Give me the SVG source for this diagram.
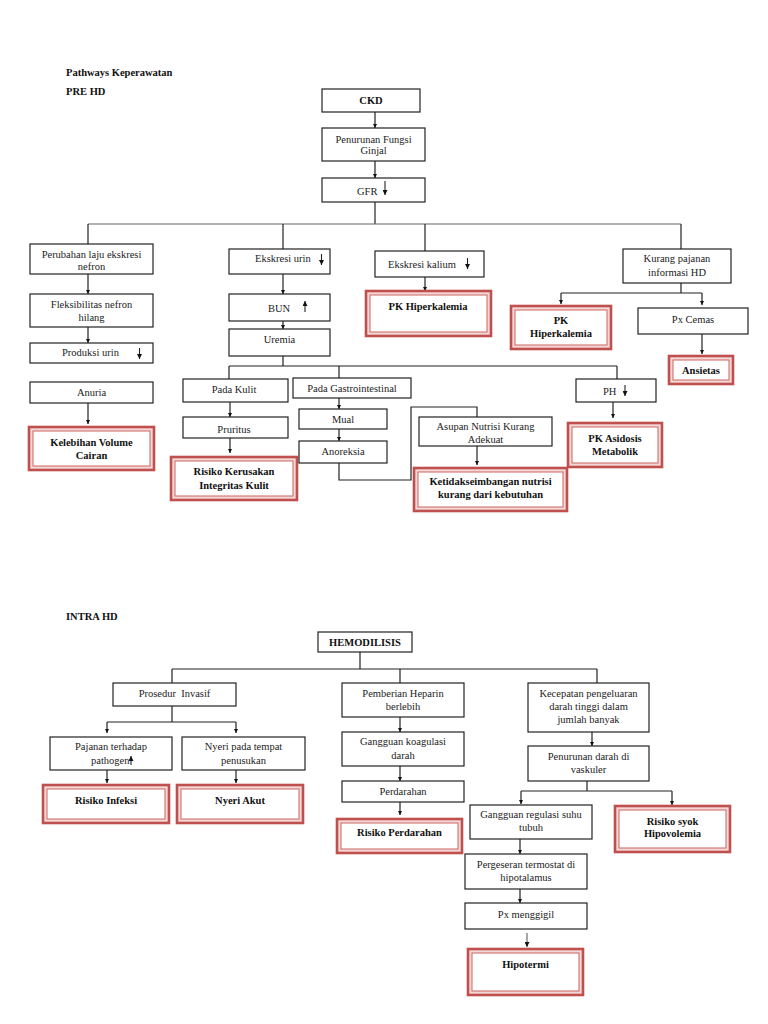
<svg xmlns="http://www.w3.org/2000/svg" width="768" height="1024" viewBox="0 0 768 1024">
<style>
.bg{fill:#ffffff}
.b{fill:#ffffff;stroke:#222;stroke-width:1.2}
.r{fill:#f3d8d7;stroke:#c0504d;stroke-width:2.6}
.ri{fill:#ffffff;stroke:#cd6461;stroke-width:1}
.t{font-family:"Liberation Serif","Times New Roman",serif;font-size:10.5px;fill:#222;text-anchor:middle}
.ts{font-family:"Liberation Serif","Times New Roman",serif;font-size:10.5px;fill:#222}
.tb{font-family:"Liberation Serif","Times New Roman",serif;font-size:10.5px;font-weight:bold;fill:#111;text-anchor:middle}
.h{font-family:"Liberation Serif","Times New Roman",serif;font-size:10.5px;font-weight:bold;fill:#111}
.c{fill:none;stroke:#222;stroke-width:1.2}
.a{fill:none;stroke:#222;stroke-width:1.2;marker-end:url(#ah)}
.s{fill:none;stroke:#222;stroke-width:1.1;marker-end:url(#sh)}
</style>
<defs>
<marker id="ah" viewBox="0 0 6 6" refX="6" refY="3" markerWidth="4.5" markerHeight="4.5" markerUnits="userSpaceOnUse" orient="auto"><path d="M0,0 L6,3 L0,6 z" fill="#111"/></marker>
<marker id="sh" viewBox="0 0 6 6" refX="6" refY="3" markerWidth="5" markerHeight="5" markerUnits="userSpaceOnUse" orient="auto"><path d="M0,0 L6,3 L0,6 z" fill="#111"/></marker>
</defs>
<rect class="bg" x="0" y="0" width="768" height="1024"/>

<g id="headings">
<text class="h" x="66" y="76">Pathways Keperawatan</text>
<text class="h" x="66" y="94.5">PRE HD</text>
<text class="h" x="66" y="619.5">INTRA HD</text>
</g>

<g id="connectors">
<path class="a" d="M375,112 V128"/>
<path class="a" d="M375,161 V178"/>
<path class="c" d="M375,202 V224"/>
<path class="c" d="M88,224 H681" style="stroke:#666"/>
<path class="c" d="M88,224 V244 M283,224 V249 M425,224 V251 M681,224 V249"/>
<path class="a" d="M88,274 V294"/>
<path class="a" d="M88,327 V343"/>
<path class="a" d="M88,403 V424"/>
<path class="a" d="M283,274 V294"/>
<path class="a" d="M283,321 V329"/>
<path class="c" d="M283,356 V366 M229,366 H617 M229,366 V379 M339,366 V378 M617,366 V379"/>
<path class="a" d="M230,402 V417"/>
<path class="a" d="M230,438 V453"/>
<path class="a" d="M339,398 V409"/>
<path class="a" d="M339,429 V441"/>
<path class="c" d="M339,463 V480 H411 V407 H477 V417"/>
<path class="a" d="M477,446 V465"/>
<path class="a" d="M425,277 V291"/>
<path class="c" d="M681,283 V293 M561,293 H702"/>
<path class="a" d="M561,293 V304"/>
<path class="a" d="M702,293 V305"/>
<path class="a" d="M702,334 V354"/>
<path class="a" d="M613,402 V418"/>

<path class="c" d="M360,652 V669 M172,669 H597 M172,669 V683 M400,669 V683 M597,669 V683"/>
<path class="c" d="M172,706 V722 M107,722 H236"/>
<path class="a" d="M107,722 V733"/>
<path class="a" d="M236,722 V733"/>
<path class="a" d="M107,770 V783"/>
<path class="a" d="M236,770 V783"/>
<path class="a" d="M400,717 V732"/>
<path class="a" d="M400,766 V781"/>
<path class="a" d="M400,802 V815"/>
<path class="a" d="M592,732 V746"/>
<path class="c" d="M587,781 V791 M521,791 H672"/>
<path class="a" d="M521,791 V804"/>
<path class="a" d="M672,791 V805"/>
<path class="a" d="M520,839 V854"/>
<path class="a" d="M520,889 V903"/>
<path class="s" d="M527,933 V947" style="stroke-width:0.8"/>
</g>

<g id="ckd"><rect class="b" x="322" y="89" width="98" height="23"/><text class="tb" x="371" y="104">CKD</text></g>
<g id="penurunan-fungsi"><rect class="b" x="322" y="128" width="103" height="33"/><text class="t" x="373.5" y="142.5">Penurunan Fungsi</text><text class="t" x="373.5" y="153.5">Ginjal</text></g>
<g id="gfr"><rect class="b" x="322" y="178" width="103" height="24"/><text class="ts" x="357" y="195">GFR</text><path class="s" d="M385,181 V195"/></g>

<g id="perubahan"><rect class="b" x="30" y="244" width="123" height="30"/><text class="t" x="91.5" y="257.5">Perubahan laju ekskresi</text><text class="t" x="91.5" y="270">nefron</text></g>
<g id="fleksibilitas"><rect class="b" x="30" y="294" width="123" height="33"/><text class="t" x="91.5" y="307.5">Fleksibilitas nefron</text><text class="t" x="91.5" y="321">hilang</text></g>
<g id="produksi-urin"><rect class="b" x="30" y="343" width="123" height="20"/><text class="ts" x="62" y="356">Produksi urin</text><path class="s" d="M139.5,348 V359"/></g>
<g id="anuria"><rect class="b" x="30" y="382" width="123" height="21"/><text class="t" x="91.5" y="396">Anuria</text></g>
<g id="kelebihan"><rect class="r" x="29" y="427" width="125" height="43"/><rect class="ri" x="33" y="431" width="117" height="35"/><text class="tb" x="91.5" y="446">Kelebihan Volume</text><text class="tb" x="91.5" y="458.5">Cairan</text></g>

<g id="ekskresi-urin"><rect class="b" x="229" y="249" width="101" height="25"/><text class="ts" x="255" y="262">Ekskresi urin</text><path class="s" d="M321.5,254 V265"/></g>
<g id="bun"><rect class="b" x="229" y="294" width="101" height="27"/><text class="ts" x="268" y="312">BUN</text><path class="s" d="M305,312 V301"/></g>
<g id="uremia"><rect class="b" x="229" y="329" width="101" height="27"/><text class="t" x="279.5" y="343">Uremia</text></g>
<g id="pada-kulit"><rect class="b" x="183" y="379" width="105" height="23"/><text class="t" x="234" y="393">Pada Kulit</text></g>
<g id="pruritus"><rect class="b" x="183" y="417" width="105" height="21"/><text class="t" x="234" y="432.5">Pruritus</text></g>
<g id="risiko-kerusakan"><rect class="r" x="171" y="457" width="126" height="43"/><rect class="ri" x="175" y="461" width="118" height="35"/><text class="tb" x="234" y="475">Risiko Kerusakan</text><text class="tb" x="234" y="488.5">Integritas Kulit</text></g>
<g id="pada-gastro"><rect class="b" x="293" y="378" width="118" height="20"/><text class="t" x="352" y="392">Pada Gastrointestinal</text></g>
<g id="mual"><rect class="b" x="299" y="409" width="88" height="20"/><text class="t" x="343" y="422.5">Mual</text></g>
<g id="anoreksia"><rect class="b" x="299" y="441" width="88" height="22"/><text class="t" x="343" y="455">Anoreksia</text></g>
<g id="asupan"><rect class="b" x="419" y="417" width="133" height="29"/><text class="t" x="485.5" y="430">Asupan Nutrisi Kurang</text><text class="t" x="485.5" y="442.5">Adekuat</text></g>
<g id="ketidakseimbangan"><rect class="r" x="414" y="468" width="153" height="43"/><rect class="ri" x="418" y="472" width="145" height="35"/><text class="tb" x="490.5" y="484.5">Ketidakseimbangan nutrisi</text><text class="tb" x="490.5" y="498">kurang dari kebutuhan</text></g>

<g id="ekskresi-kalium"><rect class="b" x="375" y="251" width="109" height="26"/><text class="ts" x="388" y="267.5">Ekskresi kalium</text><path class="s" d="M467.5,258 V269"/></g>
<g id="pk-hiperkalemia-1"><rect class="r" x="366" y="291" width="125" height="45"/><rect class="ri" x="370" y="295" width="117" height="37"/><text class="tb" x="428" y="309.5">PK Hiperkalemia</text></g>

<g id="kurang-pajanan"><rect class="b" x="623" y="249" width="108" height="34"/><text class="t" x="677" y="262">Kurang pajanan</text><text class="t" x="677" y="276">informasi HD</text></g>
<g id="pk-hiperkalemia-2"><rect class="r" x="511" y="306" width="100" height="43"/><rect class="ri" x="515" y="310" width="92" height="35"/><text class="tb" x="561" y="324">PK</text><text class="tb" x="561" y="337">Hiperkalemia</text></g>
<g id="px-cemas"><rect class="b" x="638" y="308" width="110" height="26"/><text class="t" x="693" y="322.5">Px Cemas</text></g>
<g id="ansietas"><rect class="r" x="669" y="356" width="64" height="28"/><rect class="ri" x="673" y="360" width="56" height="20"/><text class="tb" x="701" y="373.5">Ansietas</text></g>
<g id="ph"><rect class="b" x="576" y="379" width="80" height="23"/><text class="ts" x="603" y="394.5">PH</text><path class="s" d="M625,385 V396"/></g>
<g id="pk-asidosis"><rect class="r" x="568" y="423" width="94" height="44"/><rect class="ri" x="572" y="427" width="86" height="36"/><text class="tb" x="615" y="441.5">PK Asidosis</text><text class="tb" x="615" y="454.5">Metabolik</text></g>

<g id="hemodilisis"><rect class="b" x="318" y="632" width="94" height="20"/><text class="tb" x="365" y="646">HEMODILISIS</text></g>
<g id="prosedur-invasif"><rect class="b" x="113" y="683" width="123" height="23"/><text class="t" x="174.5" y="697">Prosedur&#160; Invasif</text></g>
<g id="pajanan"><rect class="b" x="50" y="737" width="122" height="33"/><text class="t" x="111" y="750">Pajanan terhadap</text><text class="ts" x="91" y="763.5">pathogen</text><path class="s" d="M131,765 V756"/></g>
<g id="nyeri-tempat"><rect class="b" x="182" y="737" width="123" height="33"/><text class="t" x="243.5" y="750">Nyeri pada tempat</text><text class="t" x="243.5" y="763.5">penusukan</text></g>
<g id="risiko-infeksi"><rect class="r" x="43" y="785" width="126" height="38"/><rect class="ri" x="47" y="789" width="118" height="30"/><text class="tb" x="106" y="803.5">Risiko Infeksi</text></g>
<g id="nyeri-akut"><rect class="r" x="177" y="785" width="126" height="38"/><rect class="ri" x="181" y="789" width="118" height="30"/><text class="tb" x="240" y="803.5">Nyeri Akut</text></g>

<g id="pemberian-heparin"><rect class="b" x="342" y="683" width="122" height="34"/><text class="t" x="403" y="697">Pemberian Heparin</text><text class="t" x="403" y="710">berlebih</text></g>
<g id="gangguan-koagulasi"><rect class="b" x="342" y="732" width="122" height="34"/><text class="t" x="403" y="745">Gangguan koagulasi</text><text class="t" x="403" y="758.5">darah</text></g>
<g id="perdarahan"><rect class="b" x="342" y="781" width="122" height="21"/><text class="t" x="403" y="794.5">Perdarahan</text></g>
<g id="risiko-perdarahan"><rect class="r" x="337" y="819" width="125" height="34"/><rect class="ri" x="341" y="823" width="117" height="26"/><text class="tb" x="399.5" y="836">Risiko Perdarahan</text></g>

<g id="kecepatan"><rect class="b" x="528" y="683" width="121" height="49"/><text class="t" x="588.5" y="697">Kecepatan pengeluaran</text><text class="t" x="588.5" y="709.5">darah tinggi dalam</text><text class="t" x="588.5" y="722.5">jumlah banyak</text></g>
<g id="penurunan-darah"><rect class="b" x="528" y="746" width="121" height="35"/><text class="t" x="588.5" y="759.5">Penurunan darah di</text><text class="t" x="588.5" y="772.5">vaskuler</text></g>
<g id="gangguan-regulasi"><rect class="b" x="470" y="805" width="122" height="34"/><text class="t" x="531" y="818">Gangguan regulasi suhu</text><text class="t" x="531" y="831">tubuh</text></g>
<g id="risiko-syok"><rect class="r" x="615" y="806" width="115" height="46"/><rect class="ri" x="619" y="810" width="107" height="38"/><text class="tb" x="672.5" y="824.5">Risiko syok</text><text class="tb" x="672.5" y="837">Hipovolemia</text></g>
<g id="pergeseran"><rect class="b" x="465" y="854" width="122" height="35"/><text class="t" x="526" y="867.5">Pergeseran termostat di</text><text class="t" x="526" y="881">hipotalamus</text></g>
<g id="px-menggigil"><rect class="b" x="465" y="903" width="122" height="26"/><text class="t" x="526" y="917.5">Px menggigil</text></g>
<g id="hipotermi"><rect class="r" x="468" y="949" width="115" height="46"/><rect class="ri" x="472" y="953" width="107" height="38"/><text class="tb" x="525.5" y="968">Hipotermi</text></g>
</svg>
